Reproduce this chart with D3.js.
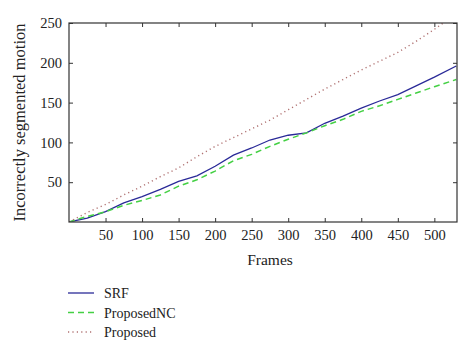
<!DOCTYPE html>
<html><head><meta charset="utf-8">
<script src="https://cdn.jsdelivr.net/npm/d3@7"></script>
<style>body{margin:0;background:#fff}</style>
</head><body>
<svg id="c" width="474" height="357"></svg>
<script>
const frames = [0, 25, 50, 75, 100, 125, 150, 175, 200, 225, 250, 275, 300, 325, 350, 375, 400, 425, 450, 475, 500, 530];
const srf        = [0, 5, 13, 24, 32, 41, 51, 58, 70, 84, 93, 103, 109, 112, 124, 133, 143, 152, 160, 171, 182, 196];
const proposedNC = [0, 7, 13, 21, 27, 34, 45, 53, 64, 77, 85, 95, 104, 112, 121, 129, 139, 146, 154, 162, 170, 179];
const proposed   = [0, 12, 22, 34, 45, 57, 68, 82, 95, 106, 117, 128, 141, 154, 167, 179, 191, 202, 213, 227, 242, 262];
const xTicks = [50, 100, 150, 200, 250, 300, 350, 400, 450, 500];
const yTicks = [50, 100, 150, 200, 250];
const seriesNames = ["SRF", "ProposedNC", "Proposed"];

const svg = d3.select("#c");
const L = 69, R = 457, T = 23, B = 222;
const x = d3.scaleLinear().domain([0, 531]).range([L, R]);
const y = d3.scaleLinear().domain([0, 250]).range([B, T]);
const font = "'Liberation Serif', 'DejaVu Serif', serif";
const axisCol = "#333";

const defs = svg.append("defs");
defs.append("clipPath").attr("id", "clip").append("rect")
  .attr("x", L).attr("y", T).attr("width", R - L).attr("height", B - T);

const styles = [
  {color: "#2a2a98", dash: null, width: 1.3},
  {color: "#44d044", dash: "6,4", width: 1.5},
  {color: "#b07272", dash: "1.2,3.2", width: 1.4}
];
const data = [srf, proposedNC, proposed];
const line = d3.line().x((d, i) => x(frames[i])).y(d => y(d));
const g = svg.append("g").attr("clip-path", "url(#clip)");
data.forEach((s, k) => {
  g.append("path").datum(s).attr("d", line).attr("fill", "none")
    .attr("stroke", styles[k].color).attr("stroke-width", styles[k].width)
    .attr("stroke-dasharray", styles[k].dash);
});

const ax = (gen, tr) => svg.append("g").attr("transform", tr).call(gen);
const style = sel => {
  sel.select(".domain").remove();
  sel.selectAll("line").attr("stroke", axisCol);
  sel.selectAll("text").attr("font-family", font).attr("font-size", 14.5).attr("fill", "#222");
};
ax(d3.axisBottom(x).tickValues(xTicks).tickSizeInner(-4).tickSizeOuter(0).tickPadding(8), `translate(0,${B})`).call(style);
ax(d3.axisTop(x).tickValues(xTicks).tickSizeInner(-4).tickSizeOuter(0).tickFormat(""), `translate(0,${T})`).call(style);
ax(d3.axisLeft(y).tickValues(yTicks).tickSizeInner(-4).tickSizeOuter(0).tickPadding(7), `translate(${L},0)`).call(style);
ax(d3.axisRight(y).tickValues(yTicks).tickSizeInner(-4).tickSizeOuter(0).tickFormat(""), `translate(${R},0)`).call(style);

svg.append("rect").attr("x", L).attr("y", T).attr("width", R - L).attr("height", B - T)
  .attr("fill", "none").attr("stroke", axisCol).attr("stroke-width", 1.2);

svg.append("text").attr("x", 270).attr("y", 265).attr("text-anchor", "middle")
  .attr("font-family", font).attr("font-size", 15.5).attr("fill", "#222").text("Frames");
svg.append("text").attr("transform", `translate(25,${(T + B) / 2}) rotate(-90)`).attr("text-anchor", "middle")
  .attr("font-family", font).attr("font-size", 16.5).attr("fill", "#222").text("Incorrectly segmented motion");

const ly = [293, 312.5, 332];
seriesNames.forEach((n, k) => {
  svg.append("line").attr("x1", 68).attr("x2", 94).attr("y1", ly[k]).attr("y2", ly[k])
    .attr("stroke", styles[k].color).attr("stroke-width", styles[k].width)
    .attr("stroke-dasharray", styles[k].dash);
  svg.append("text").attr("x", 104).attr("y", ly[k] + 5).attr("font-family", font)
    .attr("font-size", 14).attr("fill", "#222").text(n);
});
</script>
</body></html>
